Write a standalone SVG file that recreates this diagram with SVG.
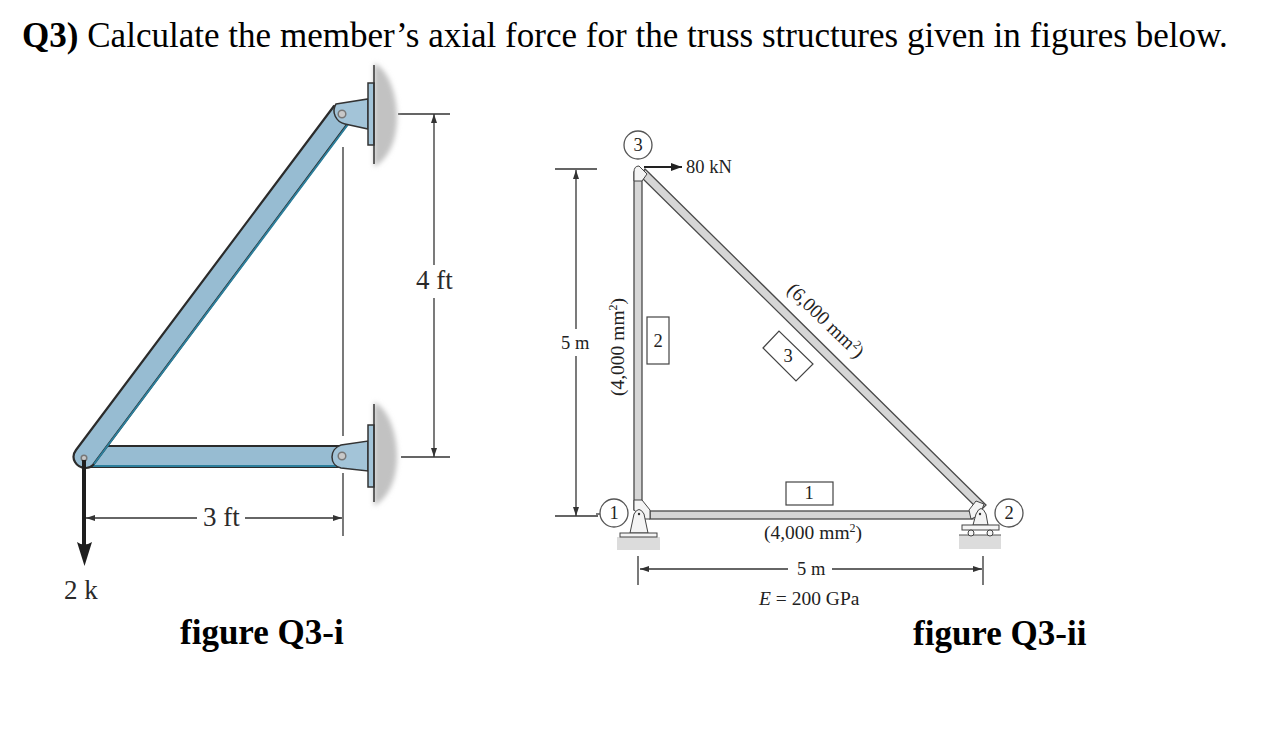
<svg xmlns="http://www.w3.org/2000/svg" width="1278" height="731" viewBox="0 0 1278 731">
<style>
text{font-family:"Liberation Serif","Times New Roman",serif;fill:#1c1c1c}
.title{font-size:35.05px;fill:#000}
.fig{font-size:35px;font-weight:bold;fill:#000}
.l{font-size:27px;fill:#2a2a2a}
.s{font-size:18.500px;fill:#222}
.a{font-size:19.500px;fill:#222}
.dim{stroke:#333;stroke-width:1.300;fill:none}
.bar{fill:#97bcd2;stroke:#2b2b2b;stroke-width:2.200;stroke-linejoin:round}
.plate{fill:#a3c4d8;stroke:#333;stroke-width:1.500}
.wall{stroke:#333;stroke-width:1.500}
.m{fill:#d6d6d6;stroke:#4a4a4a;stroke-width:1.300}
.g{fill:#f4f4f4;stroke:#444;stroke-width:1}
.box{fill:#fff;stroke:#444;stroke-width:1.200}
.c{fill:#fff;stroke:#555;stroke-width:1.300}
.gr{fill:#dcdcdc}
.pin{fill:#c8c8c8;stroke:#777;stroke-width:1.500}
.teal{stroke:#2d7f9c;stroke-width:2;fill:none}
</style>
<defs>
<marker id="a" markerWidth="10" markerHeight="6" refX="9" refY="3" orient="auto-start-reverse" markerUnits="userSpaceOnUse"><path d="M0 0L9 3L0 6z" fill="#333"/></marker>
<marker id="f" markerWidth="12" markerHeight="8" refX="11" refY="4" orient="auto" markerUnits="userSpaceOnUse"><path d="M0 0L11 4L0 8z" fill="#222"/></marker>
<filter id="b" x="-50%" y="-20%" width="200%" height="140%"><feGaussianBlur stdDeviation="2.500"/></filter>
<path id="sh" d="M374 -2C391 6 397 35 397 52C397 72 391 92 374 102z" fill="#c2c2c2" filter="url(#b)"/>
</defs>
<text class="title" x="22" y="47"><tspan font-weight="bold">Q3)</tspan> Calculate the member’s axial force for the truss structures given in figures below.</text>
<text class="fig" x="180" y="644">figure Q3-i</text>
<text class="fig" x="913" y="645">figure Q3-ii</text>

<g id="connectors">
<path class="dim" d="M343 147V436M343 473V536M398 114H450M401 457H450"/>
<path class="dim" d="M434 265V114" marker-end="url(#a)"/>
<path class="dim" d="M434 298V457" marker-end="url(#a)"/>
<path class="dim" d="M197 518H86" marker-end="url(#a)"/>
<path class="dim" d="M245 518H342" marker-end="url(#a)"/>
<path class="dim" d="M555 169H597M555 516H598"/>
<path class="dim" d="M576 329V170" marker-end="url(#a)"/>
<path class="dim" d="M576 356V516" marker-end="url(#a)"/>
<path class="dim" d="M638 556V585M983 556V585"/>
<path class="dim" d="M788 569H640" marker-end="url(#a)"/>
<path class="dim" d="M832 569H982" marker-end="url(#a)"/>
<path d="M644 167H682" stroke="#222" stroke-width="1.800" marker-end="url(#f)" fill="none"/>
<path class="dim" d="M596 514H600"/>
</g>

<g id="member-lower">
<path class="bar" d="M105 446H340V467H88Z"/>
<path class="teal" d="M88 466H340"/>
</g>
<g id="member-upper">
<path class="bar" d="M334 106L76 450C70 458 76 468 86 468C89 468 91 467 93 465L349 122Z"/>
<path class="teal" d="M94 464L349 123"/>
</g>
<g id="load">
<circle class="pin" cx="84" cy="458" r="2.800"/>
<path d="M84 460V548" stroke="#1e1e1e" stroke-width="4" fill="none"/>
<path d="M77 542Q84 547 92 542L84.500 566z" fill="#1e1e1e"/>
</g>
<g id="support-top">
<use href="#sh" y="65"/>
<path class="plate" d="M336 104L368 99V129L345 124C336 122 331 112 336 104Z"/>
<rect class="plate" x="368" y="83" width="6" height="62"/>
<path class="wall" d="M374 65V164"/>
<circle class="pin" cx="342" cy="114" r="3.800"/>
</g>
<g id="support-bottom">
<use href="#sh" y="404"/>
<path class="plate" d="M341 445L368 441V471L341 468C329 465 329 449 341 445Z"/>
<rect class="plate" x="368" y="425" width="6" height="62"/>
<path class="wall" d="M374 404V502"/>
<circle class="pin" cx="342" cy="456" r="3.800"/>
</g>
<g id="labels-left">
<text class="l" x="416" y="289">4 ft</text>
<text class="l" x="203" y="526">3 ft</text>
<text class="l" x="64" y="599">2 k</text>
</g>

<g id="member-2">
<rect class="m" x="634" y="172" width="8" height="338"/>
<rect class="box" x="647" y="317" width="22" height="47"/>
<text class="s" x="658" y="347" text-anchor="middle">2</text>
<text class="a" transform="translate(624 396) rotate(-90)">(4,000 mm<tspan font-size="12" dy="-7">2</tspan><tspan dy="7">)</tspan></text>
</g>
<g id="member-3">
<path class="m" d="M645 169L986 505L980 511L640 176Z"/>
<path class="box" d="M763 348L779 331L813 364L796 381Z"/>
<text class="s" x="788" y="362" text-anchor="middle">3</text>
<text class="a" transform="translate(786 291) rotate(44)">(6,000 mm<tspan font-size="12" dy="-7">2</tspan><tspan dy="7">)</tspan></text>
</g>
<g id="member-1">
<rect class="m" x="650" y="511" width="323" height="8"/>
<rect class="box" x="786" y="482" width="47" height="23"/>
<text class="s" x="809" y="499" text-anchor="middle">1</text>
<text class="a" x="764" y="539">(4,000 mm<tspan font-size="12" dy="-7">2</tspan><tspan dy="7">)</tspan></text>
</g>
<g id="node-3">
<path class="g" d="M634 172Q634 166 639 166L647 174L642 181H634Z"/>
<circle class="c" cx="638" cy="145" r="14"/>
<text class="s" x="638" y="151" text-anchor="middle">3</text>
</g>
<g id="node-1">
<path class="g" d="M634 500H642L650 510V519H645L634 510Z"/>
<rect class="gr" x="617" y="537" width="43" height="13"/>
<path class="g" d="M630 533L634 514Q639 505 644 514L648 533Z"/>
<rect class="g" x="620" y="533" width="37" height="4" stroke-width="1.300"/>
<circle cx="639" cy="514" r="1.200" fill="#333"/>
<circle class="c" cx="614" cy="513" r="14"/>
<text class="s" x="614" y="519" text-anchor="middle">1</text>
</g>
<g id="node-2">
<path class="g" d="M971 519L969 510L976 501L984 504L980 515Z"/>
<rect class="gr" x="959" y="535" width="42" height="14"/>
<path d="M959 535H1001" stroke="#555" stroke-width="1"/>
<path class="g" d="M973 525L976 514Q981 503 986 514L988 525Z"/>
<rect class="g" x="962" y="525" width="37" height="5" stroke-width="1.300"/>
<circle class="g" cx="971" cy="533" r="3"/>
<circle class="g" cx="990" cy="533" r="3"/>
<circle cx="980" cy="514" r="1.200" fill="#333"/>
<circle class="c" cx="1009" cy="513" r="14"/>
<text class="s" x="1009" y="519" text-anchor="middle">2</text>
</g>
<g id="labels-right">
<text class="s" x="686" y="173">80 kN</text>
<text class="s" x="561" y="349">5 m</text>
<text class="s" x="797" y="575">5 m</text>
<text class="a" x="759" y="605"><tspan font-style="italic">E</tspan> = 200 GPa</text>
</g>
</svg>
